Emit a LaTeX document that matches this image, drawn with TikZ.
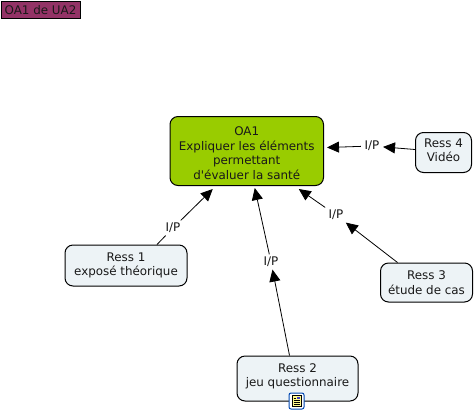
\documentclass[tikz,border=0pt]{standalone}
\usepackage{fontspec}
\setmainfont{DejaVu Sans}[Ligatures=TeXOff]
\usetikzlibrary{arrows.meta}
\definecolor{plum}{HTML}{933366}
\definecolor{leaf}{HTML}{99CC00}
\definecolor{pale}{HTML}{EDF3F6}
\tikzset{
  txt/.style={font=\fontsize{11.9}{14.6}\selectfont,align=center,text=black!90},
  box/.style={txt,draw=black,line width=1pt,rounded corners=8pt,inner sep=0pt,anchor=north west},
  res/.style={box,fill=pale},
  lab/.style={txt,inner xsep=3.5pt,inner ysep=2.5pt,fill=white},
  conn/.style={draw=black,line width=0.8pt},
  arr/.style={conn,-{Triangle[length=12pt,width=11pt]}}
}
\begin{document}
\begin{tikzpicture}[x=1pt,y=-1pt]
\useasboundingbox (0,0) rectangle (476,413);
\node[box,fill=plum,rounded corners=0pt,minimum width=79pt,minimum height=17.5pt] (ua) at (0.5,0.5) {OA1 de UA2};
\node[box,fill=leaf,minimum width=153.5pt,minimum height=69pt] (oa) at (169.5,116) {\rule{0pt}{13pt}OA1\\Expliquer les éléments\\permettant\\d'évaluer la santé};
\node[res,minimum width=122pt,minimum height=41pt] (r1) at (64.5,244.5) {Ress 1\\exposé théorique};
\node[res,minimum width=121pt,minimum height=45pt] (r2) at (236.5,355.5) {Ress 2\\jeu questionnaire\rule[-7pt]{0pt}{0pt}};
\node[res,minimum width=92pt,minimum height=39pt] (r3) at (380,262.5) {Ress 3\\étude de cas};
\node[res,minimum width=56pt,minimum height=40pt] (r4) at (415,132) {Ress 4\\Vidéo\rule[-5pt]{0pt}{0pt}};
\node[lab] (l1) at (173,228) {I/P};
\node[lab] (l2) at (271,262) {I/P};
\node[lab] (l3) at (336,215) {I/P};
\node[lab] (l4) at (372,146) {I/P};
\draw[conn] ([xshift=31pt]r1.north) -- (l1);
\draw[arr] (l1) -- ([xshift=-34pt,yshift=-3pt]oa.south);
\draw[arr] ([xshift=-8pt]r2.north) -- (l2);
\draw[arr] (l2) -- ([xshift=8pt,yshift=-2pt]oa.south);
\draw[arr] ([xshift=-29pt]r3.north) -- (l3);
\draw[arr] (l3) -- ([xshift=52pt,yshift=-3pt]oa.south);
\draw[arr] ([yshift=3pt]r4.west) -- (l4);
\draw[arr] (l4) -- ([xshift=3pt,yshift=3.5pt]oa.east);
\begin{scope}[shift={(289,393)}]
\draw[draw=blue!60!cyan!70!black,fill=white,line width=1pt,rounded corners=2pt] (0,0) rectangle (15,16);
\fill[yellow!45] (3,2.5) rectangle (12,13.5);
\draw[black,line width=0.7pt] (3,2.5) rectangle (12,13.5);
\draw[black,line width=0.8pt] (4.5,5) -- (7,5) (4.5,7.5) -- (10.5,7.5) (4.5,9.5) -- (10.5,9.5) (4.5,11.5) -- (10.5,11.5);
\fill[blue!50!gray] (8,3.5) rectangle (11,6);
\end{scope}
\end{tikzpicture}
\end{document}
